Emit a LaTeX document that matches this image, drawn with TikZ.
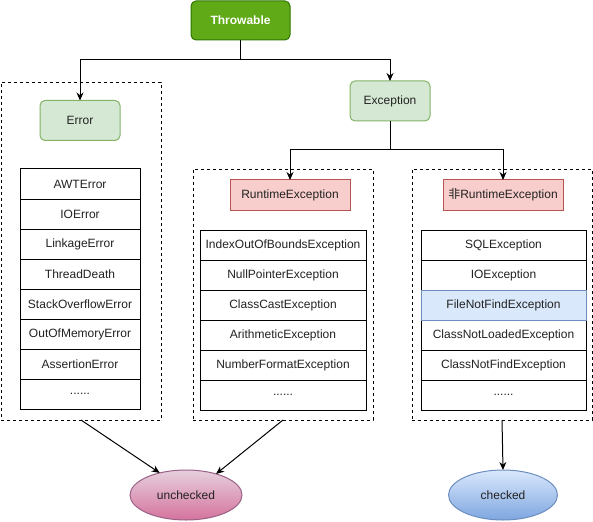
\documentclass[tikz,border=0pt]{standalone}
\usepackage{fontspec}
\setmainfont{Liberation Sans}
\newfontfamily\cjk{Noto Sans CJK SC}
\usetikzlibrary{arrows.meta,shapes.geometric}
\definecolor{thrfill}{HTML}{60A917}
\definecolor{thrdraw}{HTML}{2D7600}
\definecolor{gfill}{HTML}{D5E8D4}
\definecolor{gdraw}{HTML}{82B366}
\definecolor{rfill}{HTML}{F8CECC}
\definecolor{rdraw}{HTML}{B85450}
\definecolor{bfill}{HTML}{DAE8FC}
\definecolor{bdraw}{HTML}{6C8EBF}
\definecolor{bgrad}{HTML}{7EA6E0}
\definecolor{pfill}{HTML}{E6D0DE}
\definecolor{pgrad}{HTML}{D5739D}
\definecolor{pdraw}{HTML}{996185}
\definecolor{txt}{HTML}{222222}
\newcommand\mydots{......}
\begin{document}
\begin{tikzpicture}[x=1pt,y=-1pt,
  font=\fontsize{12}{14}\selectfont, text=txt,
  every node/.style={inner sep=0pt, outer sep=0pt},
  throwbox/.style={draw=thrdraw, fill=thrfill, rounded corners=5pt, line width=1pt,
    minimum width=99pt, minimum height=39pt, text=white, font=\fontsize{12}{14}\selectfont\bfseries},
  greenbox/.style={draw=gdraw, fill=gfill, rounded corners=5pt, line width=1pt,
    minimum width=80pt, minimum height=40pt},
  redbox/.style={draw=rdraw, fill=rfill, line width=1pt,
    minimum width=120pt, minimum height=30pt},
  container/.style={draw=black, dashed, line width=0.8pt},
  rowbox/.style={draw=black, fill=white, line width=1pt, minimum height=30pt},
  hirow/.style={draw=bdraw, fill=bfill, line width=1pt, minimum height=30pt},
  arr/.style={draw=black, line width=1pt, -{Stealth[length=8pt,width=7pt]}},
  ell/.style={ellipse, line width=1pt, minimum width=112pt, minimum height=50pt}
]
\useasboundingbox (0,0) rectangle (593,521);

% containers
\node[container, minimum width=160pt, minimum height=338pt] (cerr) at (81,251) {};
\node[container, minimum width=180pt, minimum height=251pt] (crt) at (283,294.5) {};
\node[container, minimum width=180pt, minimum height=251pt] (cchk) at (502,294.5) {};

% top nodes
\node[throwbox] (thr) at (240.5,20.5) {Throwable};
\node[greenbox] (err) at (80,120.5) {Error};
\node[greenbox] (exc) at (390,101) {Exception};
\node[redbox] (rt) at (290,195) {RuntimeException};
\node[redbox] (nrt) at (503,195) {{\cjk 非}RuntimeException};

% lists
\foreach \t [count=\i] in {AWTError,IOError,LinkageError,ThreadDeath,StackOverflowError,OutOfMemoryError,AssertionError,\mydots}
  \node[rowbox, minimum width=120pt] (e\i) at (80,{154+30*\i}) {\t};
\foreach \t [count=\i] in {IndexOutOfBoundsException,NullPointerException,ClassCastException,ArithmeticException,NumberFormatException,\mydots}
  \node[rowbox, minimum width=166pt] (r\i) at (283,{215+30*\i}) {\t};
\node[rowbox, minimum width=165pt] (k1) at (503.5,245) {SQLException};
\node[rowbox, minimum width=165pt] (k2) at (503.5,275) {IOException};
\node[hirow, minimum width=165pt] (k3) at (503.5,305) {FileNotFindException};
\node[rowbox, minimum width=165pt] (k4) at (503.5,335) {ClassNotLoadedException};
\node[rowbox, minimum width=165pt] (k5) at (503.5,365) {ClassNotFindException};
\node[rowbox, minimum width=165pt] (k6) at (503.5,395) {\mydots};
\draw[bdraw, line width=1pt] (k3.north west) rectangle (k3.south east);

% ellipses
\node[ell, draw=pdraw, top color=pfill, bottom color=pgrad] (unch) at (186,495) {unchecked};
\node[ell, draw=bdraw, top color=bfill, bottom color=bgrad, minimum width=109pt] (chk) at (503,495) {checked};

% connectors
\draw[line width=1pt] (thr.south) -- ++(0,20) coordinate (j1);
\draw[arr] (j1) -| (err.north);
\draw[arr] (j1) -| (exc.north);
\draw[line width=1pt] (exc.south) -- ++(0,29) coordinate (j2);
\draw[arr] (j2) -| (rt.north);
\draw[arr] (j2) -| (nrt.north);
\draw[arr] (cerr.south) -- (unch.140);
\draw[arr] (crt.south) -- (unch.35);
\draw[arr] (cchk.south) -- (chk.north);
\end{tikzpicture}
\end{document}
